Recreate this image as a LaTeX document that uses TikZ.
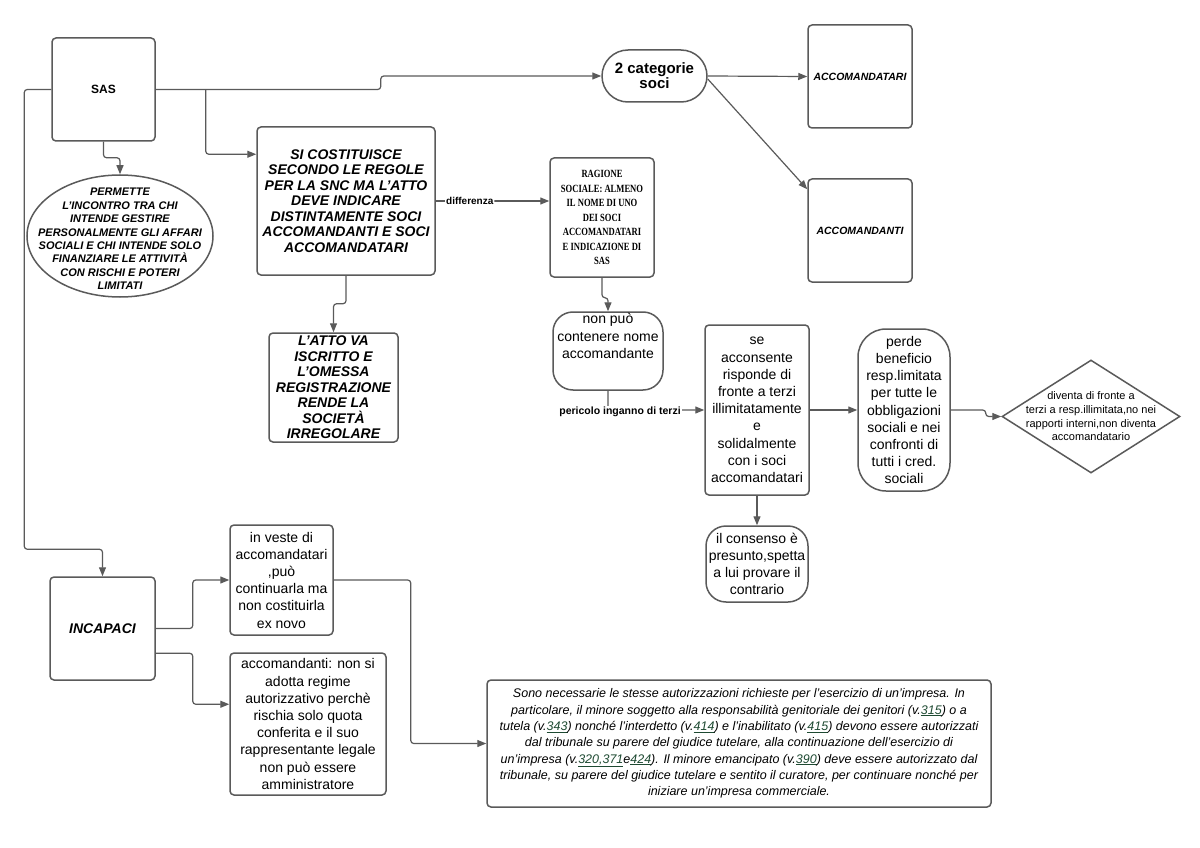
\documentclass[tikz,border=0pt]{standalone}
\usepackage{fontspec}
\setmainfont{Liberation Sans}
\newfontfamily\ragf[FakeStretch=0.78]{Liberation Serif}
\usetikzlibrary{arrows.meta,shapes.geometric,calc}
\definecolor{ln}{HTML}{5A5A5A}
\definecolor{lk}{HTML}{1E4A32}
\newcommand{\lnk}[1]{\textcolor{lk}{\underline{#1}}}
\begin{document}
\begin{tikzpicture}[x=1pt,y=-1pt,
  bx/.style={draw=ln,line width=1.5pt,rounded corners=4pt,inner sep=0pt,align=center,fill=white},
  sz/.style 2 args={minimum width=#1pt,minimum height=#2pt},
  cn/.style={draw=ln,line width=1.2pt,rounded corners=3pt,-{Triangle[length=9pt,width=7pt]}},
  fcom/.style={font=\fontsize{14}{15.5}\selectfont\bfseries\itshape},
  fcomS/.style={font=\fontsize{11}{13.4}\selectfont\bfseries\itshape},
  far/.style={font=\fontsize{14}{17.2}\selectfont},
  lbl/.style={fill=white,inner sep=1pt,font=\fontsize{10}{12}\selectfont\bfseries}
]
\useasboundingbox (0,0) rectangle (1200,848);
\fill[white] (0,0) rectangle (1200,848);

% nodes
\node[bx,sz={103}{103},font=\fontsize{12}{14}\selectfont\bfseries] (SAS) at (103.5,89.5) {SAS};
\node[draw=ln,line width=1.5pt,ellipse,sz={186}{122},inner sep=0pt,fill=white] (ELL) at (120,236) {};
\node[fcomS,align=center] (ELLt) at (120,239) {PERMETTE\\L'INCONTRO TRA CHI\\INTENDE GESTIRE\\PERSONALMENTE GLI AFFARI\\SOCIALI E CHI INTENDE SOLO\\FINANZIARE LE ATTIVITÀ\\CON RISCHI E POTERI\\LIMITATI};
\node[bx,sz={178}{148},fcom] (SI) at (346,201) {SI COSTITUISCE\\SECONDO LE REGOLE\\PER LA SNC MA L'ATTO\\DEVE INDICARE\\DISTINTAMENTE SOCI\\ACCOMANDANTI E SOCI\\ACCOMANDATARI};
\node[bx,sz={104}{119},font=\fontsize{11}{14.5}\ragf\bfseries] (RAG) at (602,217.5) {RAGIONE\\SOCIALE: ALMENO\\IL NOME DI UNO\\DEI SOCI\\ACCOMANDATARI\\E INDICAZIONE DI\\SAS};
\node[bx,sz={105}{52},rounded corners=26pt,font=\fontsize{15}{15}\selectfont\bfseries] (CAT) at (654.5,76) {2 categorie\\soci};
\node[bx,sz={104}{103},font=\fontsize{10.5}{12}\selectfont\bfseries\itshape] (ACT) at (860,76.5) {ACCOMANDATARI};
\node[bx,sz={104}{103},font=\fontsize{10.5}{12}\selectfont\bfseries\itshape] (ACD) at (860,230.5) {ACCOMANDANTI};
\node[bx,sz={129}{109},fcom] (LAT) at (333.5,387.5) {L'ATTO VA\\ISCRITTO E\\L'OMESSA\\REGISTRAZIONE\\RENDE LA\\SOCIETÀ\\IRREGOLARE};
\node[bx,sz={110}{78},rounded corners=20pt] (NP) at (608,351) {};
\node[far,align=center] (NPt) at (608,336) {non può\\contenere nome\\accomandante};
\node[bx,sz={104}{170},far] (SE) at (757,410) {se\\acconsente\\risponde di\\fronte a terzi\\illimitatamente\\e\\solidalmente\\con i soci\\accomandatari};
\node[bx,sz={92}{162},rounded corners=28pt,far] (PD) at (904,410) {perde\\beneficio\\resp.limitata\\per tutte le\\obbligazioni\\sociali e nei\\confronti di\\tutti i cred.\\sociali};
\node[draw=ln,line width=1.5pt,diamond,shape aspect=1.575,sz={178}{113},inner sep=0pt,fill=white] (DIA) at (1091,416.5) {};
\node[align=center,font=\fontsize{11}{13.7}\selectfont] (DIAt) at (1091,416.5) {diventa di fronte a\\terzi a resp.illimitata,no nei\\rapporti interni,non diventa\\accomandatario};
\node[bx,sz={102}{76},rounded corners=20pt,far] (CO) at (757,564) {il consenso è\\presunto,spetta\\a lui provare il\\contrario};
\node[bx,sz={105}{103},font=\fontsize{14}{16}\selectfont\bfseries\itshape] (INC) at (102.5,628.5) {INCAPACI};
\node[bx,sz={103}{110},far] (VE) at (281.5,580) {in veste di\\accomandatari\\,può\\continuarla ma\\non costituirla\\ex novo};
\node[bx,sz={156}{142},far] (AM) at (308,724) {accomandanti: non si\\adotta regime\\autorizzativo perchè\\rischia solo quota\\conferita e il suo\\rappresentante legale\\non può essere\\amministratore};
\node[bx,sz={504}{127},font=\fontsize{12.5}{16.3}\selectfont\itshape] (BIG) at (739,743.5) {Sono necessarie le stesse autorizzazioni richieste per l'esercizio di un'impresa. In\\particolare, il minore soggetto alla responsabilità genitoriale dei genitori (v.\lnk{315}) o a\\tutela (v.\lnk{343}) nonché l'interdetto (v.\lnk{414}) e l'inabilitato (v.\lnk{415}) devono essere autorizzati\\dal tribunale su parere del giudice tutelare, alla continuazione dell'esercizio di\\un'impresa (v.\lnk{320,371}e\lnk{424}). Il minore emancipato (v.\lnk{390}) deve essere autorizzato dal\\tribunale, su parere del giudice tutelare e sentito il curatore, per continuare nonché per\\iniziare un'impresa commerciale.};

% connectors
\draw[cn] (SAS.east) -- ++(225,0) |- (CAT.west);
\draw[cn] ($(SAS.east)+(50,0)$) |- ($(SI.north west)+(0,28)$);
\draw[cn] (SAS.south) -- ++(0,16) -| (ELL.north);
\draw[cn] (SAS.west) -- ++(-27,0) |- ($(INC.north)+(0,-27)$) -- (INC.north);
\draw[cn] (SI.east) -- (SI.east -| RAG.west) node[lbl,pos=0.3] {differenza};
\draw[cn] (RAG.south) -- ++(0,20) -| (NP.north);
\draw[cn] (CAT.east) -- (ACT.west);
\draw[cn] ($(CAT.east)+(0,3)$) -- ($(ACD.north west)+(0,11)$);
\draw[cn] (SI.south) -- ++(0,28) -| (LAT.north);
\draw[cn] (NP.south) |- (SE.west);
\node[lbl,font=\fontsize{10.5}{12}\selectfont\bfseries] (PL) at (620,412) {pericolo inganno di terzi};
\draw[cn] (SE.east) -- (PD.west);
\draw[cn] (PD.east) -- ++(35,0) |- (DIA.west);
\draw[cn] (SE.south) -- (CO.north);
\draw[cn] (INC.east) -- ++(37,0) |- (VE.west);
\draw[cn] ($(INC.north east)+(0,77)$) -- ++(37,0) |- ($(AM.north west)+(0,52)$);
\draw[cn] (VE.east) -- ++(77,0) |- (BIG.west);
\end{tikzpicture}
\end{document}
